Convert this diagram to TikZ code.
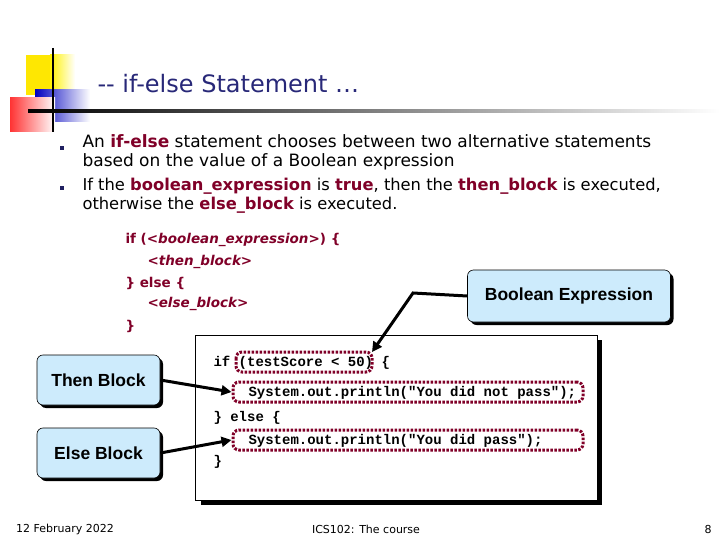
\documentclass[tikz,border=0pt]{standalone}
\usepackage{fontspec}
\setmainfont{DejaVu Sans}
\newfontfamily\tah{DejaVu Sans}
\newfontfamily\arb{Liberation Sans}
\newfontfamily\mono{Liberation Mono}
\usetikzlibrary{shadows,arrows.meta}
\definecolor{ttl}{RGB}{40,40,120}
\definecolor{mar}{RGB}{128,0,40}
\definecolor{lb}{RGB}{205,235,252}
\begin{document}
\begin{tikzpicture}[x=1pt,y=-1pt,
 callout/.style={draw=black,fill=lb,rounded corners=6pt,line width=0.6pt,drop shadow={shadow xshift=3pt,shadow yshift=-3pt,fill=black,opacity=1},font=\arb\bfseries\fontsize{17.5}{20}\selectfont,inner sep=0},
 dotbox/.style={draw=mar,line width=3pt,dash pattern=on 2.5pt off 1.5pt,rounded corners=6pt},
 arr/.style={line width=3pt,-{Triangle[length=10pt,width=10pt]}},
 body/.style={anchor=west,font=\tah\fontsize{17}{19}\selectfont,align=left},
 code/.style={anchor=west,font=\tah\bfseries\fontsize{13.5}{15}\selectfont,text=mar},
 java/.style={anchor=west,font=\mono\bfseries\fontsize{14}{16}\selectfont},
 foot/.style={font=\tah\fontsize{11}{13}\selectfont},
 bul/.style={fill=ttl!80!black,minimum size=4.5pt,inner sep=0}]
\useasboundingbox (0,0) rectangle (720,540);
% decoration
\fill[yellow!90!orange] (26,55) rectangle (58,95);
\shade[left color=yellow!90!orange,right color=white] (50,55) rectangle (75,95);
\shade[left color=blue!75!black,right color=white] (35,90) rectangle (90,122);
\shade[left color=red!80,right color=white] (10,98) rectangle (55,132);
\draw[line width=2.5pt] (53,48) -- (53,132);
\shade[left color=black,right color=white] (28,110) rectangle (720,113);
\node[anchor=west,text=ttl,font=\tah\fontsize{24}{28}\selectfont] (title) at (94,84) {-- if-else Statement …};
% bullets
\node[bul] (b1) at (62,148) {};
\node[body] (t1) at (79,152) {An {\color{mar}\bfseries if-else} statement chooses between two alternative statements\\based on the value of a Boolean expression};
\node[bul] (b2) at (62,188) {};
\node[body,font=\tah\fontsize{16.3}{19}\selectfont] (t2) at (79,196) {If the {\color{mar}\bfseries boolean\_expression} is {\color{mar}\bfseries true}, then the {\color{mar}\bfseries then\_block} is executed,\\otherwise the {\color{mar}\bfseries else\_block} is executed.};
% syntax
\node[code] (c1) at (122,240) {if (<\itshape boolean\_expression\upshape>) \{};
\node[code] (c2) at (144,262) {<\itshape then\_block\upshape>};
\node[code] (c3) at (122,283) {\} else \{};
\node[code] (c4) at (144,304) {<\itshape else\_block\upshape>};
\node[code] (c5) at (122,326) {\}};
% code box
\fill (201,340) rectangle (602,505);
\draw[fill=white,line width=0.6pt] (195,335) rectangle (597,500);
\node[java] (j1) at (210,363) {if (testScore < 50) \{};
\node[java] (j2) at (245,393) {System.out.println("You did not pass");};
\node[java] (j3) at (210,418) {\} else \{};
\node[java] (j4) at (245,441) {System.out.println("You did pass");};
\node[java] (j5) at (210,462) {\}};
\draw[dotbox] (236,352) rectangle (372,372);
\node[dotbox,minimum width=350pt,minimum height=20pt] (thenbox) at (408,392) {};
\node[dotbox,minimum width=350pt,minimum height=20pt] (elsebox) at (408,440) {};
\coordinate (cond) at (372,352);
% callouts
\node[callout,minimum width=123pt,minimum height=50pt] (then) at (98.5,380) {Then Block};
\node[callout,minimum width=123pt,minimum height=50pt] (else) at (98.5,453) {Else Block};
\node[callout,minimum width=203pt,minimum height=52pt] (bool) at (569,296) {Boolean Expression};
\draw[arr] (then.east) -- (thenbox.west);
\draw[arr] (else.east) -- (elsebox.west);
\draw[arr] (bool.west) -- (413,293) -- (cond);
% footer
\node[foot] (date) at (65,529) {12 February 2022};
\node[foot] (course) at (366,529) {ICS102: The course};
\node[foot] (pg) at (708,529) {8};
\end{tikzpicture}
\end{document}
